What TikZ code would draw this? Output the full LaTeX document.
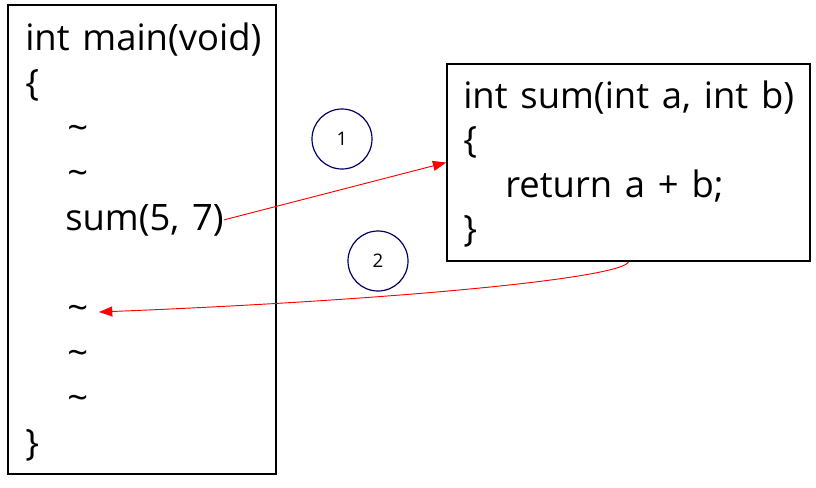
\documentclass[tikz,border=0pt]{standalone}
\usepackage{fontspec}
\setmainfont{Open Sans}
\usetikzlibrary{arrows.meta}
\newfontfamily\codefont[WordSpace=1.35]{Open Sans}

\begin{document}
\begin{tikzpicture}[x=0.75pt, y=-0.75pt,
    code/.style={anchor=base west, inner sep=0pt, font=\codefont\fontsize{27.3}{32}\selectfont},
    box/.style={draw, line width=1.2pt, inner sep=0pt},
    stepmark/.style={draw=blue!40!black, circle, line width=0.9pt, minimum size=45pt, inner sep=0pt, font=\fontsize{14}{16}\selectfont},
    call/.style={red, line width=0.7pt, -{Triangle[length=10pt, width=7.5pt]}}]
      \useasboundingbox (0,0) rectangle (816,487);
      %% main function
      \node [box, minimum width=201pt, minimum height=351.75pt] (mainbox) at (142, 239.5) {};
      \node [code] (m1) at (25, 50) {int main(void)};
      \node [code] (m2) at (25, 95) {\{};
      \node [code] (m3) at (67, 140) {\textasciitilde};
      \node [code] (m4) at (67, 185) {\textasciitilde};
      \node [code] (m5) at (65, 230) {sum(5, 7)};
      \node [code] (m6) at (67, 320) {\textasciitilde};
      \node [code] (m7) at (67, 365) {\textasciitilde};
      \node [code] (m8) at (67, 410) {\textasciitilde};
      \node [code] (m9) at (25, 455) {\}};
      %% sum function
      \node [box, minimum width=272.25pt, minimum height=147.75pt] (sumbox) at (628.5, 162.5) {};
      \node [code] (s1) at (463, 108) {int sum(int a, int b)};
      \node [code] (s2) at (463, 152.5) {\{};
      \node [code] (s3) at (505, 197) {return a + b;};
      \node [code] (s4) at (463, 241.5) {\}};
      %% steps
      \node [stepmark] (one) at (342, 139) {1};
      \node [stepmark] (two) at (378, 261) {2};
      %% arrows
      \draw [call] (m5.east) -- (sumbox.west);
      \draw [call, shorten >=8pt] (sumbox.south) .. controls (622, 278) and (400, 300) .. (m6.east);
    \end{tikzpicture}
\end{document}
